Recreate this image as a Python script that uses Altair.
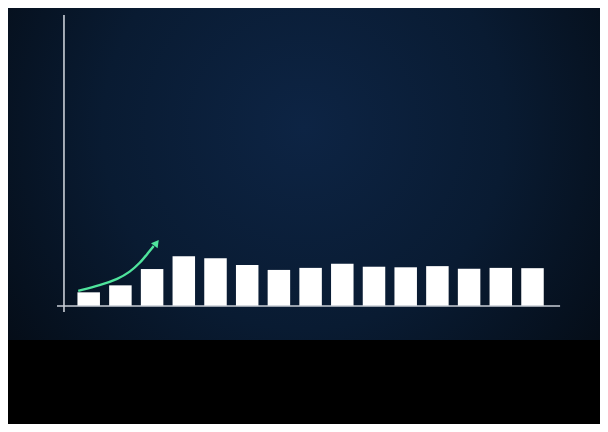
import altair as alt
import pandas as pd

# Bar values (relative heights)
positions = list(range(1, 16))
values = [4.7, 7.1, 12.7, 17.1, 16.4, 14.1, 12.4, 13.1, 14.5, 13.5, 13.3, 13.7, 12.8, 13.1, 13.0]

# Growth arrow path (data units)
arrow_x = [0.67, 1.36, 1.93, 2.30, 2.62, 2.87, 3.05]
arrow_y = [5.2, 7.1, 9.3, 11.7, 14.8, 18.2, 20.6]
arrow_tip_x = [3.14]
arrow_tip_y = [21.7]

# Axis line extents
x_axis_x = [0.0]
x_axis_x2 = [15.87]
y_axis_x = [0.22]
y_axis_top = [100.0]
y_axis_bottom = [-2.1]

W, H = 592, 416
xs = alt.Scale(domain=[0, 16], range=[49, 556.2], padding=0)
ys = alt.Scale(domain=[0, 100], range=[298, 7], padding=0)

one = pd.DataFrame({"k": [0]})

bg = alt.Chart(one).mark_rect(
    fill=alt.RadialGradient(
        gradient="radial",
        stops=[
            alt.GradientStop(offset=0, color="#0d2444"),
            alt.GradientStop(offset=0.5, color="#091b32"),
            alt.GradientStop(offset=1, color="#040a12"),
        ],
        x1=0.5, y1=0.42, r1=0, x2=0.5, y2=0.42, r2=0.68,
    ),
    strokeWidth=0,
).encode(x=alt.value(0), x2=alt.value(W), y=alt.value(0), y2=alt.value(334))

band = alt.Chart(one).mark_rect(fill="#000000", strokeWidth=0).encode(
    x=alt.value(0), x2=alt.value(W), y=alt.value(332), y2=alt.value(H)
)

bars_df = pd.DataFrame({"pos": positions, "val": values})
bars = alt.Chart(bars_df).mark_bar(size=22.5, color="#ffffff").encode(
    x=alt.X("pos:Q", scale=xs, axis=None),
    y=alt.Y("val:Q", scale=ys, axis=None),
)

xaxis_df = pd.DataFrame({"x": x_axis_x, "x2": x_axis_x2, "y": [0.0]})
xaxis = alt.Chart(xaxis_df).mark_rule(color="#c9ced6", strokeWidth=1.6).encode(
    x=alt.X("x:Q", scale=xs, axis=None), x2="x2:Q", y=alt.Y("y:Q", scale=ys, axis=None)
)

yaxis_df = pd.DataFrame({"x": y_axis_x, "y": y_axis_top, "y2": y_axis_bottom})
yaxis = alt.Chart(yaxis_df).mark_rule(color="#c9ced6", strokeWidth=1.6).encode(
    x=alt.X("x:Q", scale=xs, axis=None), y=alt.Y("y:Q", scale=ys, axis=None), y2="y2:Q"
)

arrow_df = pd.DataFrame({"x": arrow_x, "y": arrow_y, "o": list(range(len(arrow_x)))})
arrow = alt.Chart(arrow_df).mark_line(
    color="#4fe39c", strokeWidth=2.4, interpolate="basis"
).encode(
    x=alt.X("x:Q", scale=xs, axis=None), y=alt.Y("y:Q", scale=ys, axis=None), order="o:Q"
)

tip_df = pd.DataFrame({"x": arrow_tip_x, "y": arrow_tip_y})
tip = alt.Chart(tip_df).mark_point(
    shape="triangle-up", filled=True, color="#4fe39c", size=70, angle=38, opacity=1
).encode(x=alt.X("x:Q", scale=xs, axis=None), y=alt.Y("y:Q", scale=ys, axis=None))

chart = alt.layer(bg, band, bars, xaxis, yaxis, arrow, tip).properties(
    width=W, height=H, padding=0, autosize=alt.AutoSizeParams(type="none"),
    background="#040a12",
).configure_view(stroke=None)

chart.save("out.html", embed_options={"renderer": "svg", "actions": False})
